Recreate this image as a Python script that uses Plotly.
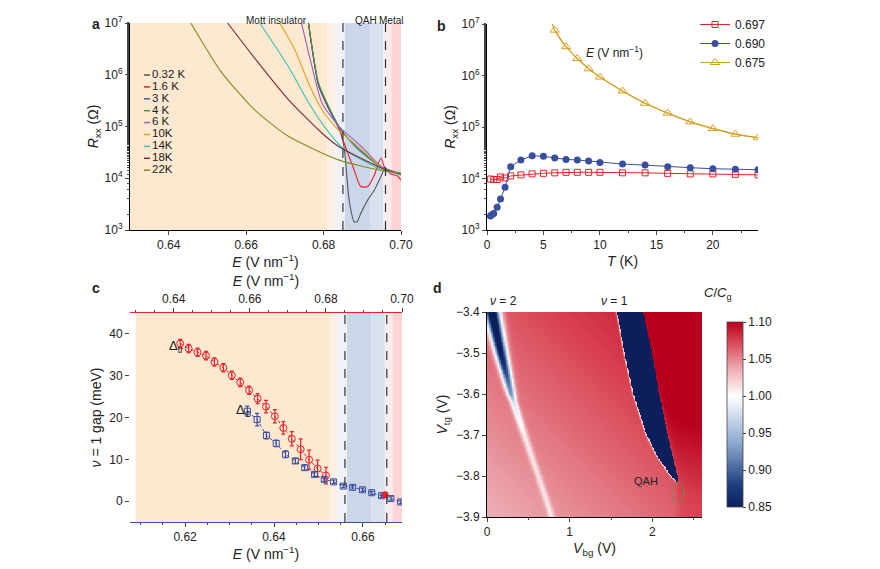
import numpy as np
import plotly.graph_objects as go

# ---- panel a: Rxx vs E, log10 values
temps_a = ["0.32 K", "1.6 K", "3 K", "4 K", "6 K", "10K", "14K", "18K", "22K"]
colors_a = ["#555555", "#e8222a", "#4a5aa8", "#3d9a48", "#9a5fc0", "#e0a020", "#3cc0b0", "#7a2c3c", "#8a8a1c"]
E_22 = [0.6457, 0.6535, 0.6622, 0.6709, 0.684, 0.695, 0.700]
R_22 = [7.0, 6.06, 5.32, 4.81, 4.35, 4.15, 4.10]
E_18 = [0.6552, 0.6622, 0.6709, 0.6796, 0.684, 0.6952, 0.700]
R_18 = [7.0, 6.32, 5.52, 4.87, 4.61, 4.19, 4.08]
E_14 = [0.6635, 0.6709, 0.6752, 0.6796, 0.685, 0.695, 0.700]
R_14 = [7.0, 6.16, 5.58, 5.06, 4.58, 4.16, 4.07]
E_10 = [0.6687, 0.6726, 0.6761, 0.6796, 0.684, 0.690, 0.695, 0.700]
R_10 = [7.0, 6.48, 5.84, 5.32, 4.92, 4.55, 4.20, 4.08]
E_6 = [0.6743, 0.677, 0.6796, 0.684, 0.690, 0.695, 0.700]
R_6 = [7.0, 6.16, 5.45, 5.0, 4.6, 4.22, 4.08]
E_4 = [0.6761, 0.6787, 0.6813, 0.684, 0.6883, 0.695, 0.700]
R_4 = [7.0, 5.84, 5.39, 5.0, 4.6, 4.2, 4.08]
E_3 = [0.6761, 0.6787, 0.6813, 0.684, 0.6883, 0.695, 0.700]
R_3 = [7.0, 5.80, 5.35, 4.98, 4.62, 4.22, 4.09]
E_16 = [0.6761, 0.6787, 0.6813, 0.684, 0.6853, 0.6879, 0.6896, 0.6914, 0.6931, 0.6948, 0.6957, 0.6974, 0.699, 0.700]
R_16 = [7.0, 5.80, 5.35, 4.95, 4.68, 4.16, 3.84, 3.84, 4.06, 4.39, 4.22, 4.08, 4.05, 3.97]
E_032 = [0.6761, 0.6787, 0.6813, 0.684, 0.6853, 0.6866, 0.6879, 0.6887, 0.6896, 0.6914, 0.6931, 0.6948, 0.6957, 0.700]
R_032 = [7.0, 5.80, 5.35, 4.98, 4.6, 3.58, 3.16, 3.16, 3.32, 3.58, 3.77, 4.03, 4.16, 4.07]
curves_a = [(E_032, R_032), (E_16, R_16), (E_3, R_3), (E_4, R_4), (E_6, R_6),
            (E_10, R_10), (E_14, R_14), (E_18, R_18), (E_22, R_22)]

# ---- panel b: Rxx vs T
T_675 = [6, 7, 8, 9, 10, 12, 14, 16, 18, 20, 22, 24]
R_675 = [6.88, 6.56, 6.33, 6.13, 5.97, 5.70, 5.46, 5.27, 5.10, 4.97, 4.86, 4.79]
T_690 = [0.3, 0.45, 0.6, 0.9, 1.2, 1.6, 2.1, 3, 4, 5, 6, 7, 8, 9, 10, 12, 14, 16, 18, 20, 22, 24]
R_690 = [3.27, 3.30, 3.32, 3.44, 3.60, 3.83, 4.23, 4.36, 4.44, 4.43, 4.40, 4.37, 4.36, 4.34, 4.31,
         4.28, 4.26, 4.23, 4.21, 4.19, 4.18, 4.17]
T_697 = [0.3, 0.6, 0.9, 1.2, 1.6, 2.1, 3, 4, 5, 6, 7, 8, 9, 10, 12, 14, 16, 18, 20, 22, 24]
R_697 = [3.99, 3.98, 3.98, 4.03, 4.01, 4.05, 4.07, 4.09, 4.10, 4.11, 4.12, 4.12, 4.12, 4.12,
         4.11, 4.11, 4.10, 4.09, 4.09, 4.08, 4.07]

# ---- panel c: gaps
E_tr = [0.6189, 0.6208, 0.6228, 0.6247, 0.6266, 0.6286, 0.6305, 0.6324, 0.6344, 0.6363,
        0.6382, 0.6402, 0.6421, 0.644, 0.646, 0.6479, 0.6498, 0.6517]
gap_tr = [37.7, 36.5, 35.6, 34.8, 33.3, 31.9, 30.1, 28.4, 26.5, 24.5, 22.6, 20.3, 17.5, 14.9,
          12.4, 9.9, 7.8, 6.1]
err_tr = [1, 1, 1, 1, 1, 1, 1, 1, 1, 1.2, 1.5, 1.6, 1.5, 1.7, 2.5, 2.3, 2, 2]
E_c = [0.634, 0.6362, 0.6383, 0.6405, 0.6426, 0.6448, 0.6469, 0.6491, 0.6513, 0.6534,
       0.6556, 0.6577, 0.6599, 0.662, 0.6642, 0.6663, 0.6685]
gap_c = [21.5, 19.5, 15.7, 13.8, 11.2, 9.6, 8.0, 6.4, 5.2, 4.6, 3.6, 3.3, 2.7, 2.0, 1.3, 0.6, -0.2]
err_c = [1.2, 1.5, 0.8, 0.8, 0.8, 0.6, 0.6, 0.5, 0.5, 0.4, 0.4, 0.4, 0.4, 0.4, 0.4, 0.4, 0.4]

# ---- panel d: capacitance map features
Vbg = np.linspace(0, 2.6, 321)
Vtg = np.linspace(-3.9, -3.4, 161)
nu1_vtg = [-3.815, -3.8, -3.75, -3.7, -3.6, -3.5, -3.4]
nu1_left = [2.30, 2.22, 2.05, 1.93, 1.77, 1.66, 1.57]
nu1_right = [2.30, 2.30, 2.24, 2.18, 2.08, 1.99, 1.89]
nu2_vtg = [-3.9, -3.8, -3.7, -3.62, -3.6, -3.5, -3.4]
nu2_center = [0.78, 0.62, 0.45, 0.32, 0.29, 0.17, 0.06]
nu2_width = [0.04, 0.04, 0.045, 0.045, 0.05, 0.07, 0.09]
nu2_depth = [0.035, 0.035, 0.045, 0.08, 0.13, 0.22, 0.26]

fig = go.Figure()

# panel a
for col, (ex, ry) in zip(colors_a, curves_a):
    fig.add_trace(go.Scatter(x=ex, y=[10 ** v for v in ry], mode="lines", showlegend=False,
                             line=dict(color=col, width=1.1, shape="spline", smoothing=0.6),
                             xaxis="x", yaxis="y"))

# panel b
fig.add_trace(go.Scatter(x=T_697, y=[10 ** v for v in R_697], mode="lines+markers", name="0.697",
                         line=dict(color="#e8222a", width=1),
                         marker=dict(symbol="square-open", size=6, color="#e8222a"),
                         xaxis="x2", yaxis="y2", legend="legend2"))
fig.add_trace(go.Scatter(x=T_690, y=[10 ** v for v in R_690], mode="lines+markers", name="0.690",
                         line=dict(color="#3a4ea0", width=1),
                         marker=dict(symbol="circle", size=7, color="#3a4ea0"),
                         xaxis="x2", yaxis="y2", legend="legend2"))
fig.add_trace(go.Scatter(x=[5.7] + T_675, y=[10 ** 7.05] + [10 ** v for v in R_675], mode="lines",
                         line=dict(color="#d4a020", width=1.2, shape="spline"), showlegend=False,
                         xaxis="x2", yaxis="y2"))
fig.add_trace(go.Scatter(x=T_675, y=[10 ** v for v in R_675], mode="lines+markers", name="0.675",
                         line=dict(color="#d4a020", width=1),
                         marker=dict(symbol="triangle-up-open", size=8, color="#d4a020"),
                         xaxis="x2", yaxis="y2", legend="legend2"))

# panel c
fig.add_trace(go.Scatter(x=E_tr, y=gap_tr, mode="lines+markers",
                         error_y=dict(array=err_tr, color="#e8222a", thickness=1.2, width=2),
                         line=dict(color="#e8222a", width=1, dash="dot"),
                         marker=dict(symbol="circle-open", size=7, color="#e8222a"),
                         showlegend=False, xaxis="x3", yaxis="y3"))
fig.add_trace(go.Scatter(x=E_c, y=gap_c, mode="lines+markers",
                         error_y=dict(array=err_c, color="#3a4ea0", thickness=1.2, width=2),
                         line=dict(color="#3a4ea0", width=1, dash="dot"),
                         marker=dict(symbol="square-open", size=6, color="#3a4ea0"),
                         showlegend=False, xaxis="x3", yaxis="y3"))
fig.add_trace(go.Scatter(x=[0.665], y=[1.5], mode="markers", marker=dict(color="#e8222a", size=7),
                         showlegend=False, xaxis="x3", yaxis="y3"))

# panel d
X, Y = np.meshgrid(Vbg, Vtg)
z = 1.035 + 0.03 * (Y + 3.9) / 0.5 + 0.012 * X
l1 = np.interp(Vtg, nu1_vtg, nu1_left)
r1 = np.interp(Vtg, nu1_vtg, nu1_right)
above = (Y >= -3.815)
boost = np.clip((Y + 3.85) / 0.45, 0, 1)
right_side = 1 / (1 + np.exp(-(X - r1[:, None]) / 0.02))
z = z + right_side * (0.035 * boost + 0.008)
inside = (X >= l1[:, None]) & (X <= r1[:, None]) & above
edge = np.exp(-((X - l1[:, None]) / 0.015) ** 2)
z = z - 0.06 * edge * above
z = np.where(inside, 0.85, z)
c2 = np.interp(Vtg, nu2_vtg, nu2_center)
w2 = np.interp(Vtg, nu2_vtg, nu2_width)
d2 = np.interp(Vtg, nu2_vtg, nu2_depth)
z = z - d2[:, None] * np.exp(-((X - c2[:, None]) / w2[:, None]) ** 2)
z = np.clip(z, 0.85, 1.10)
rdbu = [[0, "#0b1f5c"], [0.12, "#1f3f80"], [0.35, "#8faad0"], [0.6, "#ffffff"],
        [0.75, "#ecaab0"], [0.9, "#d84050"], [1, "#b8001c"]]

W, H = 880, 569
OFF = 8  # page offset seen in the screenshot
def fx(p): return (p - OFF) / W
def fy(p): return 1 - (p - OFF) / H

fig.add_trace(go.Heatmap(x=Vbg, y=Vtg, z=z, zmin=0.85, zmax=1.10, colorscale=rdbu,
                         xaxis="x4", yaxis="y4",
                         colorbar=dict(x=fx(717), xanchor="left", y=fy(517), yanchor="bottom",
                                       len=205 / H, lenmode="fraction", thickness=16,
                                       tickvals=[0.85, 0.9, 0.95, 1.0, 1.05, 1.1],
                                       ticktext=["0.85", "0.90", "0.95", "1.00", "1.05", "1.10"],
                                       outlinewidth=0.8, ticks="outside", ticklen=3,
                                       tickfont=dict(size=12))))

# legend of panel a, drawn by hand for its tight spacing (pixel overlay axis)
for i, (name, col) in enumerate(zip(temps_a, colors_a)):
    yp = 75 + 11.9 * i
    fig.add_trace(go.Scatter(x=[144, 150], y=[yp, yp], mode="lines", line=dict(color=col, width=1.5),
                             showlegend=False, xaxis="x6", yaxis="y6", hoverinfo="skip"))
    fig.add_trace(go.Scatter(x=[152], y=[yp], mode="text", text=[name], textposition="middle right",
                             textfont=dict(size=11.5, color="#222"), showlegend=False,
                             xaxis="x6", yaxis="y6", hoverinfo="skip"))

ax = dict(showline=True, linecolor="black", linewidth=1, ticks="outside", ticklen=4,
          mirror=False, showgrid=False, zeroline=False, automargin=False,
          tickfont=dict(size=12, color="#222"))
axlog = dict(ax, type="log", tickvals=[1e3, 1e4, 1e5, 1e6, 1e7],
             ticktext=["10<sup>3</sup>", "10<sup>4</sup>", "10<sup>5</sup>", "10<sup>6</sup>", "10<sup>7</sup>"],
             range=[3, 7], minor=dict(ticks="outside", ticklen=2, showgrid=False))
Etitle = "<i>E</i> (V nm<sup>−1</sup>)"

fig.update_layout(
    width=W, height=H, margin=dict(l=0, r=0, t=0, b=0, autoexpand=False),
    paper_bgcolor="white", plot_bgcolor="rgba(0,0,0,0)",
    font=dict(family="Liberation Sans, Arial", size=12, color="#222"),
    xaxis=dict(ax, domain=[fx(130), fx(401)], range=[0.63, 0.70], anchor="y",
               tickvals=[0.64, 0.66, 0.68, 0.70], tickformat=".2f",
               title=dict(text=Etitle, standoff=4)),
    yaxis=dict(axlog, domain=[fy(230), fy(23)], anchor="x",
               title=dict(text="<i>R</i><sub>xx</sub> (Ω)", standoff=2)),
    xaxis2=dict(ax, domain=[fx(487), fx(758)], range=[0, 24], anchor="y2",
                tickvals=[0, 5, 10, 15, 20], minor=dict(ticks="outside", ticklen=2, dtick=2.5),
                title=dict(text="<i>T</i> (K)", standoff=4)),
    yaxis2=dict(axlog, domain=[fy(230), fy(24)], anchor="x2",
                title=dict(text="<i>R</i><sub>xx</sub> (Ω)", standoff=2)),
    xaxis3=dict(ax, domain=[fx(130), fx(402)], range=[0.6076, 0.6688], anchor="y3",
                linecolor="#3a4ea0", tickvals=[0.62, 0.64, 0.66], tickformat=".2f",
                minor=dict(ticks="outside", ticklen=2, dtick=0.005),
                title=dict(text=Etitle, standoff=4)),
    yaxis3=dict(ax, domain=[fy(522), fy(313)], range=[-5, 45], anchor="x3",
                tickvals=[0, 10, 20, 30, 40], showline=False,
                title=dict(text="<i>ν</i> = 1 gap (meV)", standoff=4)),
    xaxis5=dict(ax, overlaying="x3", side="top", anchor="y3", range=[0.6285, 0.70],
                linecolor="#e8222a", tickvals=[0.64, 0.66, 0.68, 0.70], tickformat=".2f",
                minor=dict(ticks="outside", ticklen=2, dtick=0.005),
                title=dict(text=Etitle, standoff=2)),
    xaxis4=dict(ax, domain=[fx(487), fx(702)], range=[0, 2.6], anchor="y4",
                tickvals=[0, 1, 2], minor=dict(ticks="outside", ticklen=2, dtick=0.5),
                title=dict(text="<i>V</i><sub>bg</sub> (V)", standoff=4)),
    yaxis4=dict(ax, domain=[fy(517), fy(312)], range=[-3.9, -3.4], anchor="x4",
                tickvals=[-3.9, -3.8, -3.7, -3.6, -3.5, -3.4],
                ticktext=["−3.9", "−3.8", "−3.7", "−3.6", "−3.5", "−3.4"],
                title=dict(text="<i>V</i><sub>tg</sub> (V)", standoff=4)),
    xaxis6=dict(domain=[0, 1], range=[OFF, W + OFF], visible=False, fixedrange=True),
    yaxis6=dict(domain=[0, 1], range=[H + OFF, OFF], visible=False, fixedrange=True, anchor="x6"),
    legend2=dict(x=fx(695), y=fy(10), xanchor="left", yanchor="top", bgcolor="rgba(0,0,0,0)",
                 font=dict(size=12), itemwidth=30, tracegroupgap=0),
)

# background regions for panels a and c
regions = [(0.63, 0.681, "rgb(253,232,208)"), (0.681, 0.683, "rgb(252,240,228)"),
           (0.683, 0.6855, "rgb(240,242,247)"),
           (0.6855, 0.692, "rgb(204,214,233)"), (0.692, 0.6955, "rgb(218,225,238)"),
           (0.6955, 0.6975, "rgb(250,236,238)"), (0.6975, 0.70, "rgb(255,212,214)")]
for xr, yd in [("x", "y domain"), ("x5", "y3 domain")]:
    for x0, x1, col in regions:
        fig.add_shape(type="rect", xref=xr, yref=yd, x0=max(x0, 0.6285), x1=x1, y0=0, y1=1,
                      fillcolor=col, line_width=0, layer="below")
    for xv in [0.685, 0.696]:
        fig.add_shape(type="line", xref=xr, yref=yd, x0=xv, x1=xv, y0=0, y1=1,
                      line=dict(color="#333", width=1.2, dash="dash"))

fig.add_shape(type="circle", xref="x4", yref="y4", x0=2.24, x1=2.38, y0=-3.865, y1=-3.815,
              line=dict(color="#4aaa4a", width=1, dash="dot"))

ann = [
    (fx(90), fy(14), "<b>a</b>", 14), (fx(441), fy(16), "<b>b</b>", 14),
    (fx(90), fy(288), "<b>c</b>", 14), (fx(437), fy(288), "<b>d</b>", 14),
    (fx(244), fy(13), "Mott insulator", 10), (fx(366), fy(13), "QAH", 10), (fx(391), fy(13), "Metal", 10),
    (fx(645), fy(42), "<i>E</i> (V nm<sup>−1</sup>)", 12),
    (fx(167), fy(346), "Δ<sub>tr</sub>", 13), (fx(234), fy(421), "Δ<sub>C</sub>", 13),
    (fx(504), fy(301), "<i>ν</i> = 2", 12), (fx(630), fy(301), "<i>ν</i> = 1", 12),
    (fx(733), fy(293), "<i>C</i>/<i>C</i><sub>g</sub>", 13), (fx(660), fy(489), "QAH", 11),
]
for x, y, t, s in ann:
    fig.add_annotation(x=x, y=y, xref="paper", yref="paper", text=t, showarrow=False,
                       font=dict(size=s, color="#222"))

fig.write_html("out.html")
